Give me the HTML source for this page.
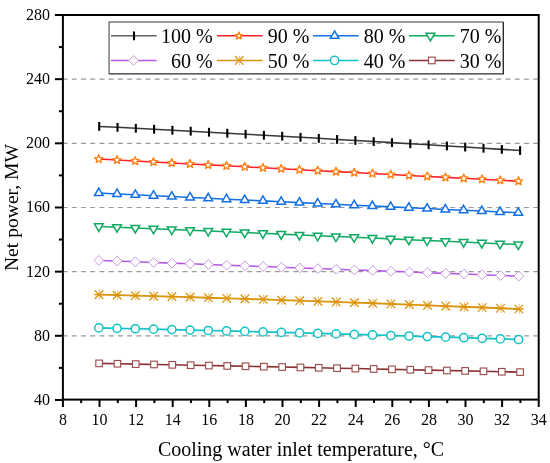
<!DOCTYPE html>
<html><head><meta charset="utf-8"><style>html,body{margin:0;padding:0;background:#fff;}svg{display:block;}</style></head>
<body>
<svg width="550" height="463" viewBox="0 0 550 463" font-family="'Liberation Serif', 'Times New Roman', serif">
<rect width="550" height="463" fill="#fff"/>
<line x1="62.57" y1="335.80" x2="537.70" y2="335.80" stroke="#999" stroke-width="1.2" stroke-dasharray="4.9 4.33"/>
<line x1="62.57" y1="271.64" x2="537.70" y2="271.64" stroke="#999" stroke-width="1.2" stroke-dasharray="4.9 4.33"/>
<line x1="62.57" y1="207.48" x2="537.70" y2="207.48" stroke="#999" stroke-width="1.2" stroke-dasharray="4.9 4.33"/>
<line x1="62.57" y1="143.32" x2="537.70" y2="143.32" stroke="#999" stroke-width="1.2" stroke-dasharray="4.9 4.33"/>
<line x1="62.57" y1="79.16" x2="537.70" y2="79.16" stroke="#999" stroke-width="1.2" stroke-dasharray="4.9 4.33"/>
<polyline points="99.20,126.40 117.50,127.34 135.80,128.29 154.10,129.25 172.40,130.22 190.70,131.21 209.00,132.20 227.30,133.20 245.60,134.21 263.90,135.23 282.20,136.26 300.50,137.30 318.80,138.35 337.10,139.41 355.40,140.48 373.70,141.55 392.00,142.64 410.30,143.74 428.60,144.85 446.90,145.97 465.20,147.10 483.50,148.23 501.80,149.38 520.10,150.54" fill="none" stroke="#383838" stroke-width="1.55" stroke-linejoin="round"/>
<line x1="99.20" y1="122.00" x2="99.20" y2="130.80" stroke="#000000" stroke-width="2.1"/>
<line x1="117.50" y1="122.94" x2="117.50" y2="131.74" stroke="#000000" stroke-width="2.1"/>
<line x1="135.80" y1="123.89" x2="135.80" y2="132.69" stroke="#000000" stroke-width="2.1"/>
<line x1="154.10" y1="124.85" x2="154.10" y2="133.65" stroke="#000000" stroke-width="2.1"/>
<line x1="172.40" y1="125.82" x2="172.40" y2="134.62" stroke="#000000" stroke-width="2.1"/>
<line x1="190.70" y1="126.81" x2="190.70" y2="135.61" stroke="#000000" stroke-width="2.1"/>
<line x1="209.00" y1="127.80" x2="209.00" y2="136.60" stroke="#000000" stroke-width="2.1"/>
<line x1="227.30" y1="128.80" x2="227.30" y2="137.60" stroke="#000000" stroke-width="2.1"/>
<line x1="245.60" y1="129.81" x2="245.60" y2="138.61" stroke="#000000" stroke-width="2.1"/>
<line x1="263.90" y1="130.83" x2="263.90" y2="139.63" stroke="#000000" stroke-width="2.1"/>
<line x1="282.20" y1="131.86" x2="282.20" y2="140.66" stroke="#000000" stroke-width="2.1"/>
<line x1="300.50" y1="132.90" x2="300.50" y2="141.70" stroke="#000000" stroke-width="2.1"/>
<line x1="318.80" y1="133.95" x2="318.80" y2="142.75" stroke="#000000" stroke-width="2.1"/>
<line x1="337.10" y1="135.01" x2="337.10" y2="143.81" stroke="#000000" stroke-width="2.1"/>
<line x1="355.40" y1="136.08" x2="355.40" y2="144.88" stroke="#000000" stroke-width="2.1"/>
<line x1="373.70" y1="137.15" x2="373.70" y2="145.95" stroke="#000000" stroke-width="2.1"/>
<line x1="392.00" y1="138.24" x2="392.00" y2="147.04" stroke="#000000" stroke-width="2.1"/>
<line x1="410.30" y1="139.34" x2="410.30" y2="148.14" stroke="#000000" stroke-width="2.1"/>
<line x1="428.60" y1="140.45" x2="428.60" y2="149.25" stroke="#000000" stroke-width="2.1"/>
<line x1="446.90" y1="141.57" x2="446.90" y2="150.37" stroke="#000000" stroke-width="2.1"/>
<line x1="465.20" y1="142.70" x2="465.20" y2="151.50" stroke="#000000" stroke-width="2.1"/>
<line x1="483.50" y1="143.83" x2="483.50" y2="152.63" stroke="#000000" stroke-width="2.1"/>
<line x1="501.80" y1="144.98" x2="501.80" y2="153.78" stroke="#000000" stroke-width="2.1"/>
<line x1="520.10" y1="146.14" x2="520.10" y2="154.94" stroke="#000000" stroke-width="2.1"/>
<polyline points="98.70,159.04 116.95,160.01 135.20,160.99 153.46,161.96 171.71,162.93 189.96,163.91 208.21,164.88 226.47,165.84 244.72,166.81 262.97,167.78 281.22,168.74 299.47,169.71 317.73,170.67 335.98,171.63 354.23,172.59 372.48,173.55 390.73,174.51 408.99,175.46 427.24,176.42 445.49,177.37 463.74,178.32 482.00,179.28 500.25,180.23 518.50,181.17" fill="none" stroke="#ff2228" stroke-width="1.55" stroke-linejoin="round"/>
<polygon points="98.70,154.74 99.84,157.47 102.79,157.71 100.54,159.64 101.23,162.52 98.70,160.97 96.17,162.52 96.86,159.64 94.61,157.71 97.56,157.47" fill="#fff" stroke="#ff7f10" stroke-width="1.35" stroke-linejoin="round"/>
<polygon points="116.95,155.71 118.09,158.45 121.04,158.69 118.79,160.61 119.48,163.49 116.95,161.95 114.42,163.49 115.11,160.61 112.86,158.69 115.81,158.45" fill="#fff" stroke="#ff7f10" stroke-width="1.35" stroke-linejoin="round"/>
<polygon points="135.20,156.69 136.34,159.42 139.29,159.66 137.04,161.59 137.73,164.47 135.20,162.92 132.68,164.47 133.36,161.59 131.11,159.66 134.07,159.42" fill="#fff" stroke="#ff7f10" stroke-width="1.35" stroke-linejoin="round"/>
<polygon points="153.46,157.66 154.59,160.40 157.55,160.63 155.30,162.56 155.98,165.44 153.46,163.90 150.93,165.44 151.62,162.56 149.37,160.63 152.32,160.40" fill="#fff" stroke="#ff7f10" stroke-width="1.35" stroke-linejoin="round"/>
<polygon points="171.71,158.63 172.85,161.37 175.80,161.61 173.55,163.53 174.24,166.41 171.71,164.87 169.18,166.41 169.87,163.53 167.62,161.61 170.57,161.37" fill="#fff" stroke="#ff7f10" stroke-width="1.35" stroke-linejoin="round"/>
<polygon points="189.96,159.61 191.10,162.34 194.05,162.58 191.80,164.50 192.49,167.38 189.96,165.84 187.43,167.38 188.12,164.50 185.87,162.58 188.82,162.34" fill="#fff" stroke="#ff7f10" stroke-width="1.35" stroke-linejoin="round"/>
<polygon points="208.21,160.58 209.35,163.31 212.30,163.55 210.05,165.47 210.74,168.35 208.21,166.81 205.69,168.35 206.37,165.47 204.12,163.55 207.08,163.31" fill="#fff" stroke="#ff7f10" stroke-width="1.35" stroke-linejoin="round"/>
<polygon points="226.47,161.54 227.60,164.28 230.55,164.52 228.31,166.44 228.99,169.32 226.47,167.78 223.94,169.32 224.62,166.44 222.38,164.52 225.33,164.28" fill="#fff" stroke="#ff7f10" stroke-width="1.35" stroke-linejoin="round"/>
<polygon points="244.72,162.51 245.85,165.25 248.81,165.48 246.56,167.41 247.24,170.29 244.72,168.75 242.19,170.29 242.88,167.41 240.63,165.48 243.58,165.25" fill="#fff" stroke="#ff7f10" stroke-width="1.35" stroke-linejoin="round"/>
<polygon points="262.97,163.48 264.11,166.21 267.06,166.45 264.81,168.38 265.50,171.26 262.97,169.71 260.44,171.26 261.13,168.38 258.88,166.45 261.83,166.21" fill="#fff" stroke="#ff7f10" stroke-width="1.35" stroke-linejoin="round"/>
<polygon points="281.22,164.44 282.36,167.18 285.31,167.41 283.06,169.34 283.75,172.22 281.22,170.68 278.69,172.22 279.38,169.34 277.13,167.41 280.08,167.18" fill="#fff" stroke="#ff7f10" stroke-width="1.35" stroke-linejoin="round"/>
<polygon points="299.47,165.41 300.61,168.14 303.56,168.38 301.31,170.30 302.00,173.18 299.47,171.64 296.95,173.18 297.63,170.30 295.38,168.38 298.34,168.14" fill="#fff" stroke="#ff7f10" stroke-width="1.35" stroke-linejoin="round"/>
<polygon points="317.73,166.37 318.86,169.10 321.82,169.34 319.57,171.27 320.25,174.15 317.73,172.60 315.20,174.15 315.89,171.27 313.64,169.34 316.59,169.10" fill="#fff" stroke="#ff7f10" stroke-width="1.35" stroke-linejoin="round"/>
<polygon points="335.98,167.33 337.12,170.06 340.07,170.30 337.82,172.23 338.51,175.11 335.98,173.56 333.45,175.11 334.14,172.23 331.89,170.30 334.84,170.06" fill="#fff" stroke="#ff7f10" stroke-width="1.35" stroke-linejoin="round"/>
<polygon points="354.23,168.29 355.37,171.02 358.32,171.26 356.07,173.19 356.76,176.07 354.23,174.52 351.70,176.07 352.39,173.19 350.14,171.26 353.09,171.02" fill="#fff" stroke="#ff7f10" stroke-width="1.35" stroke-linejoin="round"/>
<polygon points="372.48,169.25 373.62,171.98 376.57,172.22 374.32,174.15 375.01,177.03 372.48,175.48 369.96,177.03 370.64,174.15 368.39,172.22 371.35,171.98" fill="#fff" stroke="#ff7f10" stroke-width="1.35" stroke-linejoin="round"/>
<polygon points="390.73,170.21 391.87,172.94 394.82,173.18 392.58,175.10 393.26,177.98 390.73,176.44 388.21,177.98 388.89,175.10 386.65,173.18 389.60,172.94" fill="#fff" stroke="#ff7f10" stroke-width="1.35" stroke-linejoin="round"/>
<polygon points="408.99,171.16 410.12,173.90 413.08,174.13 410.83,176.06 411.51,178.94 408.99,177.40 406.46,178.94 407.15,176.06 404.90,174.13 407.85,173.90" fill="#fff" stroke="#ff7f10" stroke-width="1.35" stroke-linejoin="round"/>
<polygon points="427.24,172.12 428.38,174.85 431.33,175.09 429.08,177.02 429.77,179.90 427.24,178.35 424.71,179.90 425.40,177.02 423.15,175.09 426.10,174.85" fill="#fff" stroke="#ff7f10" stroke-width="1.35" stroke-linejoin="round"/>
<polygon points="445.49,173.07 446.63,175.81 449.58,176.04 447.33,177.97 448.02,180.85 445.49,179.31 442.96,180.85 443.65,177.97 441.40,176.04 444.35,175.81" fill="#fff" stroke="#ff7f10" stroke-width="1.35" stroke-linejoin="round"/>
<polygon points="463.74,174.02 464.88,176.76 467.83,176.99 465.58,178.92 466.27,181.80 463.74,180.26 461.22,181.80 461.90,178.92 459.65,176.99 462.61,176.76" fill="#fff" stroke="#ff7f10" stroke-width="1.35" stroke-linejoin="round"/>
<polygon points="482.00,174.98 483.13,177.71 486.09,177.95 483.84,179.87 484.52,182.75 482.00,181.21 479.47,182.75 480.16,179.87 477.91,177.95 480.86,177.71" fill="#fff" stroke="#ff7f10" stroke-width="1.35" stroke-linejoin="round"/>
<polygon points="500.25,175.93 501.39,178.66 504.34,178.90 502.09,180.82 502.78,183.70 500.25,182.16 497.72,183.70 498.41,180.82 496.16,178.90 499.11,178.66" fill="#fff" stroke="#ff7f10" stroke-width="1.35" stroke-linejoin="round"/>
<polygon points="518.50,176.87 519.64,179.61 522.59,179.85 520.34,181.77 521.03,184.65 518.50,183.11 515.97,184.65 516.66,181.77 514.41,179.85 517.36,179.61" fill="#fff" stroke="#ff7f10" stroke-width="1.35" stroke-linejoin="round"/>
<polyline points="98.80,193.04 117.04,193.92 135.28,194.80 153.52,195.68 171.76,196.55 190.00,197.42 208.23,198.29 226.47,199.16 244.71,200.03 262.95,200.89 281.19,201.75 299.43,202.61 317.67,203.47 335.91,204.33 354.15,205.18 372.39,206.03 390.63,206.88 408.87,207.73 427.10,208.57 445.34,209.42 463.58,210.26 481.82,211.10 500.06,211.94 518.30,212.77" fill="none" stroke="#1470e4" stroke-width="1.55" stroke-linejoin="round"/>
<polygon points="98.80,188.11 103.10,195.51 94.50,195.51" fill="#fff" stroke="#1470e4" stroke-width="1.5"/>
<polygon points="117.04,188.99 121.34,196.39 112.74,196.39" fill="#fff" stroke="#1470e4" stroke-width="1.5"/>
<polygon points="135.28,189.87 139.58,197.27 130.98,197.27" fill="#fff" stroke="#1470e4" stroke-width="1.5"/>
<polygon points="153.52,190.74 157.82,198.14 149.22,198.14" fill="#fff" stroke="#1470e4" stroke-width="1.5"/>
<polygon points="171.76,191.62 176.06,199.02 167.46,199.02" fill="#fff" stroke="#1470e4" stroke-width="1.5"/>
<polygon points="190.00,192.49 194.30,199.89 185.70,199.89" fill="#fff" stroke="#1470e4" stroke-width="1.5"/>
<polygon points="208.23,193.36 212.53,200.76 203.93,200.76" fill="#fff" stroke="#1470e4" stroke-width="1.5"/>
<polygon points="226.47,194.23 230.77,201.63 222.17,201.63" fill="#fff" stroke="#1470e4" stroke-width="1.5"/>
<polygon points="244.71,195.09 249.01,202.49 240.41,202.49" fill="#fff" stroke="#1470e4" stroke-width="1.5"/>
<polygon points="262.95,195.96 267.25,203.36 258.65,203.36" fill="#fff" stroke="#1470e4" stroke-width="1.5"/>
<polygon points="281.19,196.82 285.49,204.22 276.89,204.22" fill="#fff" stroke="#1470e4" stroke-width="1.5"/>
<polygon points="299.43,197.68 303.73,205.08 295.13,205.08" fill="#fff" stroke="#1470e4" stroke-width="1.5"/>
<polygon points="317.67,198.54 321.97,205.94 313.37,205.94" fill="#fff" stroke="#1470e4" stroke-width="1.5"/>
<polygon points="335.91,199.39 340.21,206.79 331.61,206.79" fill="#fff" stroke="#1470e4" stroke-width="1.5"/>
<polygon points="354.15,200.25 358.45,207.65 349.85,207.65" fill="#fff" stroke="#1470e4" stroke-width="1.5"/>
<polygon points="372.39,201.10 376.69,208.50 368.09,208.50" fill="#fff" stroke="#1470e4" stroke-width="1.5"/>
<polygon points="390.63,201.95 394.93,209.35 386.33,209.35" fill="#fff" stroke="#1470e4" stroke-width="1.5"/>
<polygon points="408.87,202.80 413.17,210.20 404.57,210.20" fill="#fff" stroke="#1470e4" stroke-width="1.5"/>
<polygon points="427.10,203.64 431.40,211.04 422.80,211.04" fill="#fff" stroke="#1470e4" stroke-width="1.5"/>
<polygon points="445.34,204.48 449.64,211.88 441.04,211.88" fill="#fff" stroke="#1470e4" stroke-width="1.5"/>
<polygon points="463.58,205.33 467.88,212.73 459.28,212.73" fill="#fff" stroke="#1470e4" stroke-width="1.5"/>
<polygon points="481.82,206.17 486.12,213.57 477.52,213.57" fill="#fff" stroke="#1470e4" stroke-width="1.5"/>
<polygon points="500.06,207.00 504.36,214.40 495.76,214.40" fill="#fff" stroke="#1470e4" stroke-width="1.5"/>
<polygon points="518.30,207.84 522.60,215.24 514.00,215.24" fill="#fff" stroke="#1470e4" stroke-width="1.5"/>
<polyline points="98.80,226.41 117.04,227.17 135.28,227.93 153.52,228.70 171.76,229.47 190.00,230.24 208.23,231.02 226.47,231.79 244.71,232.57 262.95,233.35 281.19,234.14 299.43,234.92 317.67,235.71 335.91,236.50 354.15,237.29 372.39,238.09 390.63,238.89 408.87,239.69 427.10,240.49 445.34,241.29 463.58,242.10 481.82,242.91 500.06,243.72 518.30,244.53" fill="none" stroke="#10aa62" stroke-width="1.55" stroke-linejoin="round"/>
<polygon points="94.40,223.87 103.20,223.87 98.80,231.47" fill="#fff" stroke="#10aa62" stroke-width="1.5"/>
<polygon points="112.64,224.64 121.44,224.64 117.04,232.24" fill="#fff" stroke="#10aa62" stroke-width="1.5"/>
<polygon points="130.88,225.40 139.68,225.40 135.28,233.00" fill="#fff" stroke="#10aa62" stroke-width="1.5"/>
<polygon points="149.12,226.17 157.92,226.17 153.52,233.77" fill="#fff" stroke="#10aa62" stroke-width="1.5"/>
<polygon points="167.36,226.94 176.16,226.94 171.76,234.54" fill="#fff" stroke="#10aa62" stroke-width="1.5"/>
<polygon points="185.60,227.71 194.40,227.71 190.00,235.31" fill="#fff" stroke="#10aa62" stroke-width="1.5"/>
<polygon points="203.83,228.48 212.63,228.48 208.23,236.08" fill="#fff" stroke="#10aa62" stroke-width="1.5"/>
<polygon points="222.07,229.26 230.87,229.26 226.47,236.86" fill="#fff" stroke="#10aa62" stroke-width="1.5"/>
<polygon points="240.31,230.04 249.11,230.04 244.71,237.64" fill="#fff" stroke="#10aa62" stroke-width="1.5"/>
<polygon points="258.55,230.82 267.35,230.82 262.95,238.42" fill="#fff" stroke="#10aa62" stroke-width="1.5"/>
<polygon points="276.79,231.60 285.59,231.60 281.19,239.20" fill="#fff" stroke="#10aa62" stroke-width="1.5"/>
<polygon points="295.03,232.39 303.83,232.39 299.43,239.99" fill="#fff" stroke="#10aa62" stroke-width="1.5"/>
<polygon points="313.27,233.18 322.07,233.18 317.67,240.78" fill="#fff" stroke="#10aa62" stroke-width="1.5"/>
<polygon points="331.51,233.97 340.31,233.97 335.91,241.57" fill="#fff" stroke="#10aa62" stroke-width="1.5"/>
<polygon points="349.75,234.76 358.55,234.76 354.15,242.36" fill="#fff" stroke="#10aa62" stroke-width="1.5"/>
<polygon points="367.99,235.56 376.79,235.56 372.39,243.16" fill="#fff" stroke="#10aa62" stroke-width="1.5"/>
<polygon points="386.23,236.35 395.03,236.35 390.63,243.95" fill="#fff" stroke="#10aa62" stroke-width="1.5"/>
<polygon points="404.47,237.15 413.27,237.15 408.87,244.75" fill="#fff" stroke="#10aa62" stroke-width="1.5"/>
<polygon points="422.70,237.95 431.50,237.95 427.10,245.55" fill="#fff" stroke="#10aa62" stroke-width="1.5"/>
<polygon points="440.94,238.76 449.74,238.76 445.34,246.36" fill="#fff" stroke="#10aa62" stroke-width="1.5"/>
<polygon points="459.18,239.57 467.98,239.57 463.58,247.17" fill="#fff" stroke="#10aa62" stroke-width="1.5"/>
<polygon points="477.42,240.37 486.22,240.37 481.82,247.97" fill="#fff" stroke="#10aa62" stroke-width="1.5"/>
<polygon points="495.66,241.19 504.46,241.19 500.06,248.79" fill="#fff" stroke="#10aa62" stroke-width="1.5"/>
<polygon points="513.90,242.00 522.70,242.00 518.30,249.60" fill="#fff" stroke="#10aa62" stroke-width="1.5"/>
<polyline points="98.90,260.41 117.16,261.09 135.41,261.77 153.67,262.45 171.93,263.13 190.18,263.81 208.44,264.50 226.70,265.18 244.95,265.86 263.21,266.54 281.47,267.23 299.72,267.91 317.98,268.59 336.23,269.28 354.49,269.96 372.75,270.64 391.00,271.33 409.26,272.01 427.52,272.70 445.77,273.39 464.03,274.07 482.29,274.76 500.54,275.44 518.80,276.13" fill="none" stroke="#b658e4" stroke-width="1.55" stroke-linejoin="round"/>
<polygon points="98.90,255.51 103.80,260.41 98.90,265.31 94.00,260.41" fill="#fff" stroke="#c99ae0" stroke-width="1.0"/>
<polygon points="117.16,256.19 122.06,261.09 117.16,265.99 112.26,261.09" fill="#fff" stroke="#c99ae0" stroke-width="1.0"/>
<polygon points="135.41,256.87 140.31,261.77 135.41,266.67 130.51,261.77" fill="#fff" stroke="#c99ae0" stroke-width="1.0"/>
<polygon points="153.67,257.55 158.57,262.45 153.67,267.35 148.77,262.45" fill="#fff" stroke="#c99ae0" stroke-width="1.0"/>
<polygon points="171.93,258.23 176.83,263.13 171.93,268.03 167.03,263.13" fill="#fff" stroke="#c99ae0" stroke-width="1.0"/>
<polygon points="190.18,258.91 195.08,263.81 190.18,268.71 185.28,263.81" fill="#fff" stroke="#c99ae0" stroke-width="1.0"/>
<polygon points="208.44,259.60 213.34,264.50 208.44,269.40 203.54,264.50" fill="#fff" stroke="#c99ae0" stroke-width="1.0"/>
<polygon points="226.70,260.28 231.60,265.18 226.70,270.08 221.80,265.18" fill="#fff" stroke="#c99ae0" stroke-width="1.0"/>
<polygon points="244.95,260.96 249.85,265.86 244.95,270.76 240.05,265.86" fill="#fff" stroke="#c99ae0" stroke-width="1.0"/>
<polygon points="263.21,261.64 268.11,266.54 263.21,271.44 258.31,266.54" fill="#fff" stroke="#c99ae0" stroke-width="1.0"/>
<polygon points="281.47,262.33 286.37,267.23 281.47,272.13 276.57,267.23" fill="#fff" stroke="#c99ae0" stroke-width="1.0"/>
<polygon points="299.72,263.01 304.62,267.91 299.72,272.81 294.82,267.91" fill="#fff" stroke="#c99ae0" stroke-width="1.0"/>
<polygon points="317.98,263.69 322.88,268.59 317.98,273.49 313.08,268.59" fill="#fff" stroke="#c99ae0" stroke-width="1.0"/>
<polygon points="336.23,264.38 341.13,269.28 336.23,274.18 331.33,269.28" fill="#fff" stroke="#c99ae0" stroke-width="1.0"/>
<polygon points="354.49,265.06 359.39,269.96 354.49,274.86 349.59,269.96" fill="#fff" stroke="#c99ae0" stroke-width="1.0"/>
<polygon points="372.75,265.74 377.65,270.64 372.75,275.54 367.85,270.64" fill="#fff" stroke="#c99ae0" stroke-width="1.0"/>
<polygon points="391.00,266.43 395.90,271.33 391.00,276.23 386.10,271.33" fill="#fff" stroke="#c99ae0" stroke-width="1.0"/>
<polygon points="409.26,267.11 414.16,272.01 409.26,276.91 404.36,272.01" fill="#fff" stroke="#c99ae0" stroke-width="1.0"/>
<polygon points="427.52,267.80 432.42,272.70 427.52,277.60 422.62,272.70" fill="#fff" stroke="#c99ae0" stroke-width="1.0"/>
<polygon points="445.77,268.49 450.67,273.39 445.77,278.29 440.87,273.39" fill="#fff" stroke="#c99ae0" stroke-width="1.0"/>
<polygon points="464.03,269.17 468.93,274.07 464.03,278.97 459.13,274.07" fill="#fff" stroke="#c99ae0" stroke-width="1.0"/>
<polygon points="482.29,269.86 487.19,274.76 482.29,279.66 477.39,274.76" fill="#fff" stroke="#c99ae0" stroke-width="1.0"/>
<polygon points="500.54,270.54 505.44,275.44 500.54,280.34 495.64,275.44" fill="#fff" stroke="#c99ae0" stroke-width="1.0"/>
<polygon points="518.80,271.23 523.70,276.13 518.80,281.03 513.90,276.13" fill="#fff" stroke="#c99ae0" stroke-width="1.0"/>
<polyline points="98.90,294.58 117.16,295.07 135.41,295.58 153.67,296.10 171.93,296.63 190.18,297.17 208.44,297.73 226.70,298.30 244.95,298.88 263.21,299.47 281.47,300.07 299.72,300.69 317.98,301.31 336.23,301.95 354.49,302.61 372.75,303.27 391.00,303.95 409.26,304.63 427.52,305.33 445.77,306.04 464.03,306.77 482.29,307.50 500.54,308.25 518.80,309.01" fill="none" stroke="#dc940c" stroke-width="1.8" stroke-linejoin="round"/>
<g stroke="#dc940c" stroke-width="1.3" stroke-linecap="round"><line x1="99.30" y1="290.08" x2="99.30" y2="299.08" stroke-width="1.0" stroke-opacity="0.6"/><line x1="95.00" y1="290.68" x2="102.80" y2="298.48"/><line x1="95.00" y1="298.48" x2="102.80" y2="290.68"/><line x1="94.40" y1="294.58" x2="103.40" y2="294.58"/></g>
<g stroke="#dc940c" stroke-width="1.3" stroke-linecap="round"><line x1="117.56" y1="290.57" x2="117.56" y2="299.57" stroke-width="1.0" stroke-opacity="0.6"/><line x1="113.26" y1="291.17" x2="121.06" y2="298.97"/><line x1="113.26" y1="298.97" x2="121.06" y2="291.17"/><line x1="112.66" y1="295.07" x2="121.66" y2="295.07"/></g>
<g stroke="#dc940c" stroke-width="1.3" stroke-linecap="round"><line x1="135.81" y1="291.08" x2="135.81" y2="300.08" stroke-width="1.0" stroke-opacity="0.6"/><line x1="131.51" y1="291.68" x2="139.31" y2="299.48"/><line x1="131.51" y1="299.48" x2="139.31" y2="291.68"/><line x1="130.91" y1="295.58" x2="139.91" y2="295.58"/></g>
<g stroke="#dc940c" stroke-width="1.3" stroke-linecap="round"><line x1="154.07" y1="291.60" x2="154.07" y2="300.60" stroke-width="1.0" stroke-opacity="0.6"/><line x1="149.77" y1="292.20" x2="157.57" y2="300.00"/><line x1="149.77" y1="300.00" x2="157.57" y2="292.20"/><line x1="149.17" y1="296.10" x2="158.17" y2="296.10"/></g>
<g stroke="#dc940c" stroke-width="1.3" stroke-linecap="round"><line x1="172.33" y1="292.13" x2="172.33" y2="301.13" stroke-width="1.0" stroke-opacity="0.6"/><line x1="168.03" y1="292.73" x2="175.83" y2="300.53"/><line x1="168.03" y1="300.53" x2="175.83" y2="292.73"/><line x1="167.43" y1="296.63" x2="176.43" y2="296.63"/></g>
<g stroke="#dc940c" stroke-width="1.3" stroke-linecap="round"><line x1="190.58" y1="292.67" x2="190.58" y2="301.67" stroke-width="1.0" stroke-opacity="0.6"/><line x1="186.28" y1="293.27" x2="194.08" y2="301.07"/><line x1="186.28" y1="301.07" x2="194.08" y2="293.27"/><line x1="185.68" y1="297.17" x2="194.68" y2="297.17"/></g>
<g stroke="#dc940c" stroke-width="1.3" stroke-linecap="round"><line x1="208.84" y1="293.23" x2="208.84" y2="302.23" stroke-width="1.0" stroke-opacity="0.6"/><line x1="204.54" y1="293.83" x2="212.34" y2="301.63"/><line x1="204.54" y1="301.63" x2="212.34" y2="293.83"/><line x1="203.94" y1="297.73" x2="212.94" y2="297.73"/></g>
<g stroke="#dc940c" stroke-width="1.3" stroke-linecap="round"><line x1="227.10" y1="293.80" x2="227.10" y2="302.80" stroke-width="1.0" stroke-opacity="0.6"/><line x1="222.80" y1="294.40" x2="230.60" y2="302.20"/><line x1="222.80" y1="302.20" x2="230.60" y2="294.40"/><line x1="222.20" y1="298.30" x2="231.20" y2="298.30"/></g>
<g stroke="#dc940c" stroke-width="1.3" stroke-linecap="round"><line x1="245.35" y1="294.38" x2="245.35" y2="303.38" stroke-width="1.0" stroke-opacity="0.6"/><line x1="241.05" y1="294.98" x2="248.85" y2="302.78"/><line x1="241.05" y1="302.78" x2="248.85" y2="294.98"/><line x1="240.45" y1="298.88" x2="249.45" y2="298.88"/></g>
<g stroke="#dc940c" stroke-width="1.3" stroke-linecap="round"><line x1="263.61" y1="294.97" x2="263.61" y2="303.97" stroke-width="1.0" stroke-opacity="0.6"/><line x1="259.31" y1="295.57" x2="267.11" y2="303.37"/><line x1="259.31" y1="303.37" x2="267.11" y2="295.57"/><line x1="258.71" y1="299.47" x2="267.71" y2="299.47"/></g>
<g stroke="#dc940c" stroke-width="1.3" stroke-linecap="round"><line x1="281.87" y1="295.57" x2="281.87" y2="304.57" stroke-width="1.0" stroke-opacity="0.6"/><line x1="277.57" y1="296.17" x2="285.37" y2="303.97"/><line x1="277.57" y1="303.97" x2="285.37" y2="296.17"/><line x1="276.97" y1="300.07" x2="285.97" y2="300.07"/></g>
<g stroke="#dc940c" stroke-width="1.3" stroke-linecap="round"><line x1="300.12" y1="296.19" x2="300.12" y2="305.19" stroke-width="1.0" stroke-opacity="0.6"/><line x1="295.82" y1="296.79" x2="303.62" y2="304.59"/><line x1="295.82" y1="304.59" x2="303.62" y2="296.79"/><line x1="295.22" y1="300.69" x2="304.22" y2="300.69"/></g>
<g stroke="#dc940c" stroke-width="1.3" stroke-linecap="round"><line x1="318.38" y1="296.81" x2="318.38" y2="305.81" stroke-width="1.0" stroke-opacity="0.6"/><line x1="314.08" y1="297.41" x2="321.88" y2="305.21"/><line x1="314.08" y1="305.21" x2="321.88" y2="297.41"/><line x1="313.48" y1="301.31" x2="322.48" y2="301.31"/></g>
<g stroke="#dc940c" stroke-width="1.3" stroke-linecap="round"><line x1="336.63" y1="297.45" x2="336.63" y2="306.45" stroke-width="1.0" stroke-opacity="0.6"/><line x1="332.33" y1="298.05" x2="340.13" y2="305.85"/><line x1="332.33" y1="305.85" x2="340.13" y2="298.05"/><line x1="331.73" y1="301.95" x2="340.73" y2="301.95"/></g>
<g stroke="#dc940c" stroke-width="1.3" stroke-linecap="round"><line x1="354.89" y1="298.11" x2="354.89" y2="307.11" stroke-width="1.0" stroke-opacity="0.6"/><line x1="350.59" y1="298.71" x2="358.39" y2="306.51"/><line x1="350.59" y1="306.51" x2="358.39" y2="298.71"/><line x1="349.99" y1="302.61" x2="358.99" y2="302.61"/></g>
<g stroke="#dc940c" stroke-width="1.3" stroke-linecap="round"><line x1="373.15" y1="298.77" x2="373.15" y2="307.77" stroke-width="1.0" stroke-opacity="0.6"/><line x1="368.85" y1="299.37" x2="376.65" y2="307.17"/><line x1="368.85" y1="307.17" x2="376.65" y2="299.37"/><line x1="368.25" y1="303.27" x2="377.25" y2="303.27"/></g>
<g stroke="#dc940c" stroke-width="1.3" stroke-linecap="round"><line x1="391.40" y1="299.45" x2="391.40" y2="308.45" stroke-width="1.0" stroke-opacity="0.6"/><line x1="387.10" y1="300.05" x2="394.90" y2="307.85"/><line x1="387.10" y1="307.85" x2="394.90" y2="300.05"/><line x1="386.50" y1="303.95" x2="395.50" y2="303.95"/></g>
<g stroke="#dc940c" stroke-width="1.3" stroke-linecap="round"><line x1="409.66" y1="300.13" x2="409.66" y2="309.13" stroke-width="1.0" stroke-opacity="0.6"/><line x1="405.36" y1="300.73" x2="413.16" y2="308.53"/><line x1="405.36" y1="308.53" x2="413.16" y2="300.73"/><line x1="404.76" y1="304.63" x2="413.76" y2="304.63"/></g>
<g stroke="#dc940c" stroke-width="1.3" stroke-linecap="round"><line x1="427.92" y1="300.83" x2="427.92" y2="309.83" stroke-width="1.0" stroke-opacity="0.6"/><line x1="423.62" y1="301.43" x2="431.42" y2="309.23"/><line x1="423.62" y1="309.23" x2="431.42" y2="301.43"/><line x1="423.02" y1="305.33" x2="432.02" y2="305.33"/></g>
<g stroke="#dc940c" stroke-width="1.3" stroke-linecap="round"><line x1="446.17" y1="301.54" x2="446.17" y2="310.54" stroke-width="1.0" stroke-opacity="0.6"/><line x1="441.87" y1="302.14" x2="449.67" y2="309.94"/><line x1="441.87" y1="309.94" x2="449.67" y2="302.14"/><line x1="441.27" y1="306.04" x2="450.27" y2="306.04"/></g>
<g stroke="#dc940c" stroke-width="1.3" stroke-linecap="round"><line x1="464.43" y1="302.27" x2="464.43" y2="311.27" stroke-width="1.0" stroke-opacity="0.6"/><line x1="460.13" y1="302.87" x2="467.93" y2="310.67"/><line x1="460.13" y1="310.67" x2="467.93" y2="302.87"/><line x1="459.53" y1="306.77" x2="468.53" y2="306.77"/></g>
<g stroke="#dc940c" stroke-width="1.3" stroke-linecap="round"><line x1="482.69" y1="303.00" x2="482.69" y2="312.00" stroke-width="1.0" stroke-opacity="0.6"/><line x1="478.39" y1="303.60" x2="486.19" y2="311.40"/><line x1="478.39" y1="311.40" x2="486.19" y2="303.60"/><line x1="477.79" y1="307.50" x2="486.79" y2="307.50"/></g>
<g stroke="#dc940c" stroke-width="1.3" stroke-linecap="round"><line x1="500.94" y1="303.75" x2="500.94" y2="312.75" stroke-width="1.0" stroke-opacity="0.6"/><line x1="496.64" y1="304.35" x2="504.44" y2="312.15"/><line x1="496.64" y1="312.15" x2="504.44" y2="304.35"/><line x1="496.04" y1="308.25" x2="505.04" y2="308.25"/></g>
<g stroke="#dc940c" stroke-width="1.3" stroke-linecap="round"><line x1="519.20" y1="304.51" x2="519.20" y2="313.51" stroke-width="1.0" stroke-opacity="0.6"/><line x1="514.90" y1="305.11" x2="522.70" y2="312.91"/><line x1="514.90" y1="312.91" x2="522.70" y2="305.11"/><line x1="514.30" y1="309.01" x2="523.30" y2="309.01"/></g>
<polyline points="98.80,327.94 117.05,328.35 135.30,328.76 153.56,329.19 171.81,329.62 190.06,330.06 208.31,330.51 226.57,330.97 244.82,331.44 263.07,331.91 281.32,332.40 299.57,332.89 317.83,333.39 336.08,333.90 354.33,334.42 372.58,334.95 390.83,335.49 409.09,336.03 427.34,336.59 445.59,337.15 463.84,337.72 482.10,338.30 500.35,338.89 518.60,339.49" fill="none" stroke="#12c2c6" stroke-width="1.7" stroke-linejoin="round"/>
<circle cx="98.80" cy="327.94" r="4.10" fill="#fff" stroke="#12c2c6" stroke-width="1.5"/>
<circle cx="117.05" cy="328.35" r="4.10" fill="#fff" stroke="#12c2c6" stroke-width="1.5"/>
<circle cx="135.30" cy="328.76" r="4.10" fill="#fff" stroke="#12c2c6" stroke-width="1.5"/>
<circle cx="153.56" cy="329.19" r="4.10" fill="#fff" stroke="#12c2c6" stroke-width="1.5"/>
<circle cx="171.81" cy="329.62" r="4.10" fill="#fff" stroke="#12c2c6" stroke-width="1.5"/>
<circle cx="190.06" cy="330.06" r="4.10" fill="#fff" stroke="#12c2c6" stroke-width="1.5"/>
<circle cx="208.31" cy="330.51" r="4.10" fill="#fff" stroke="#12c2c6" stroke-width="1.5"/>
<circle cx="226.57" cy="330.97" r="4.10" fill="#fff" stroke="#12c2c6" stroke-width="1.5"/>
<circle cx="244.82" cy="331.44" r="4.10" fill="#fff" stroke="#12c2c6" stroke-width="1.5"/>
<circle cx="263.07" cy="331.91" r="4.10" fill="#fff" stroke="#12c2c6" stroke-width="1.5"/>
<circle cx="281.32" cy="332.40" r="4.10" fill="#fff" stroke="#12c2c6" stroke-width="1.5"/>
<circle cx="299.57" cy="332.89" r="4.10" fill="#fff" stroke="#12c2c6" stroke-width="1.5"/>
<circle cx="317.83" cy="333.39" r="4.10" fill="#fff" stroke="#12c2c6" stroke-width="1.5"/>
<circle cx="336.08" cy="333.90" r="4.10" fill="#fff" stroke="#12c2c6" stroke-width="1.5"/>
<circle cx="354.33" cy="334.42" r="4.10" fill="#fff" stroke="#12c2c6" stroke-width="1.5"/>
<circle cx="372.58" cy="334.95" r="4.10" fill="#fff" stroke="#12c2c6" stroke-width="1.5"/>
<circle cx="390.83" cy="335.49" r="4.10" fill="#fff" stroke="#12c2c6" stroke-width="1.5"/>
<circle cx="409.09" cy="336.03" r="4.10" fill="#fff" stroke="#12c2c6" stroke-width="1.5"/>
<circle cx="427.34" cy="336.59" r="4.10" fill="#fff" stroke="#12c2c6" stroke-width="1.5"/>
<circle cx="445.59" cy="337.15" r="4.10" fill="#fff" stroke="#12c2c6" stroke-width="1.5"/>
<circle cx="463.84" cy="337.72" r="4.10" fill="#fff" stroke="#12c2c6" stroke-width="1.5"/>
<circle cx="482.10" cy="338.30" r="4.10" fill="#fff" stroke="#12c2c6" stroke-width="1.5"/>
<circle cx="500.35" cy="338.89" r="4.10" fill="#fff" stroke="#12c2c6" stroke-width="1.5"/>
<circle cx="518.60" cy="339.49" r="4.10" fill="#fff" stroke="#12c2c6" stroke-width="1.5"/>
<polyline points="99.10,363.39 117.40,363.74 135.71,364.10 154.01,364.46 172.32,364.82 190.62,365.19 208.93,365.55 227.23,365.92 245.53,366.29 263.84,366.67 282.14,367.04 300.45,367.42 318.75,367.80 337.06,368.18 355.36,368.57 373.67,368.95 391.97,369.34 410.27,369.73 428.58,370.13 446.88,370.52 465.19,370.92 483.49,371.32 501.80,371.73 520.10,372.13" fill="none" stroke="#8a3030" stroke-width="1.6" stroke-linejoin="round"/>
<rect x="95.80" y="360.09" width="6.60" height="6.60" fill="#fff" stroke="#9c4848" stroke-width="1.1"/>
<rect x="114.10" y="360.44" width="6.60" height="6.60" fill="#fff" stroke="#9c4848" stroke-width="1.1"/>
<rect x="132.41" y="360.80" width="6.60" height="6.60" fill="#fff" stroke="#9c4848" stroke-width="1.1"/>
<rect x="150.71" y="361.16" width="6.60" height="6.60" fill="#fff" stroke="#9c4848" stroke-width="1.1"/>
<rect x="169.02" y="361.52" width="6.60" height="6.60" fill="#fff" stroke="#9c4848" stroke-width="1.1"/>
<rect x="187.32" y="361.89" width="6.60" height="6.60" fill="#fff" stroke="#9c4848" stroke-width="1.1"/>
<rect x="205.63" y="362.25" width="6.60" height="6.60" fill="#fff" stroke="#9c4848" stroke-width="1.1"/>
<rect x="223.93" y="362.62" width="6.60" height="6.60" fill="#fff" stroke="#9c4848" stroke-width="1.1"/>
<rect x="242.23" y="362.99" width="6.60" height="6.60" fill="#fff" stroke="#9c4848" stroke-width="1.1"/>
<rect x="260.54" y="363.37" width="6.60" height="6.60" fill="#fff" stroke="#9c4848" stroke-width="1.1"/>
<rect x="278.84" y="363.74" width="6.60" height="6.60" fill="#fff" stroke="#9c4848" stroke-width="1.1"/>
<rect x="297.15" y="364.12" width="6.60" height="6.60" fill="#fff" stroke="#9c4848" stroke-width="1.1"/>
<rect x="315.45" y="364.50" width="6.60" height="6.60" fill="#fff" stroke="#9c4848" stroke-width="1.1"/>
<rect x="333.76" y="364.88" width="6.60" height="6.60" fill="#fff" stroke="#9c4848" stroke-width="1.1"/>
<rect x="352.06" y="365.27" width="6.60" height="6.60" fill="#fff" stroke="#9c4848" stroke-width="1.1"/>
<rect x="370.37" y="365.65" width="6.60" height="6.60" fill="#fff" stroke="#9c4848" stroke-width="1.1"/>
<rect x="388.67" y="366.04" width="6.60" height="6.60" fill="#fff" stroke="#9c4848" stroke-width="1.1"/>
<rect x="406.97" y="366.43" width="6.60" height="6.60" fill="#fff" stroke="#9c4848" stroke-width="1.1"/>
<rect x="425.28" y="366.83" width="6.60" height="6.60" fill="#fff" stroke="#9c4848" stroke-width="1.1"/>
<rect x="443.58" y="367.22" width="6.60" height="6.60" fill="#fff" stroke="#9c4848" stroke-width="1.1"/>
<rect x="461.89" y="367.62" width="6.60" height="6.60" fill="#fff" stroke="#9c4848" stroke-width="1.1"/>
<rect x="480.19" y="368.02" width="6.60" height="6.60" fill="#fff" stroke="#9c4848" stroke-width="1.1"/>
<rect x="498.50" y="368.43" width="6.60" height="6.60" fill="#fff" stroke="#9c4848" stroke-width="1.1"/>
<rect x="516.80" y="368.83" width="6.60" height="6.60" fill="#fff" stroke="#9c4848" stroke-width="1.1"/>
<rect x="62.9" y="15.0" width="475.80" height="384.60" fill="none" stroke="#000" stroke-width="2"/>
<line x1="54.90" y1="399.96" x2="62.90" y2="399.96" stroke="#000" stroke-width="2"/>
<text x="49.9" y="404.86" font-size="16" text-anchor="end">40</text>
<line x1="58.90" y1="367.88" x2="62.90" y2="367.88" stroke="#000" stroke-width="2"/>
<line x1="54.90" y1="335.80" x2="62.90" y2="335.80" stroke="#000" stroke-width="2"/>
<text x="49.9" y="340.70" font-size="16" text-anchor="end">80</text>
<line x1="58.90" y1="303.72" x2="62.90" y2="303.72" stroke="#000" stroke-width="2"/>
<line x1="54.90" y1="271.64" x2="62.90" y2="271.64" stroke="#000" stroke-width="2"/>
<text x="49.9" y="276.54" font-size="16" text-anchor="end">120</text>
<line x1="58.90" y1="239.56" x2="62.90" y2="239.56" stroke="#000" stroke-width="2"/>
<line x1="54.90" y1="207.48" x2="62.90" y2="207.48" stroke="#000" stroke-width="2"/>
<text x="49.9" y="212.38" font-size="16" text-anchor="end">160</text>
<line x1="58.90" y1="175.40" x2="62.90" y2="175.40" stroke="#000" stroke-width="2"/>
<line x1="54.90" y1="143.32" x2="62.90" y2="143.32" stroke="#000" stroke-width="2"/>
<text x="49.9" y="148.22" font-size="16" text-anchor="end">200</text>
<line x1="58.90" y1="111.24" x2="62.90" y2="111.24" stroke="#000" stroke-width="2"/>
<line x1="54.90" y1="79.16" x2="62.90" y2="79.16" stroke="#000" stroke-width="2"/>
<text x="49.9" y="84.06" font-size="16" text-anchor="end">240</text>
<line x1="58.90" y1="47.08" x2="62.90" y2="47.08" stroke="#000" stroke-width="2"/>
<line x1="54.90" y1="15.00" x2="62.90" y2="15.00" stroke="#000" stroke-width="2"/>
<text x="49.9" y="19.90" font-size="16" text-anchor="end">280</text>
<line x1="62.90" y1="399.60" x2="62.90" y2="407.00" stroke="#000" stroke-width="2"/>
<text x="62.90" y="425" font-size="16" text-anchor="middle">8</text>
<line x1="81.20" y1="399.60" x2="81.20" y2="403.10" stroke="#000" stroke-width="2"/>
<line x1="99.50" y1="399.60" x2="99.50" y2="407.00" stroke="#000" stroke-width="2"/>
<text x="99.50" y="425" font-size="16" text-anchor="middle">10</text>
<line x1="117.80" y1="399.60" x2="117.80" y2="403.10" stroke="#000" stroke-width="2"/>
<line x1="136.10" y1="399.60" x2="136.10" y2="407.00" stroke="#000" stroke-width="2"/>
<text x="136.10" y="425" font-size="16" text-anchor="middle">12</text>
<line x1="154.40" y1="399.60" x2="154.40" y2="403.10" stroke="#000" stroke-width="2"/>
<line x1="172.70" y1="399.60" x2="172.70" y2="407.00" stroke="#000" stroke-width="2"/>
<text x="172.70" y="425" font-size="16" text-anchor="middle">14</text>
<line x1="191.00" y1="399.60" x2="191.00" y2="403.10" stroke="#000" stroke-width="2"/>
<line x1="209.30" y1="399.60" x2="209.30" y2="407.00" stroke="#000" stroke-width="2"/>
<text x="209.30" y="425" font-size="16" text-anchor="middle">16</text>
<line x1="227.60" y1="399.60" x2="227.60" y2="403.10" stroke="#000" stroke-width="2"/>
<line x1="245.90" y1="399.60" x2="245.90" y2="407.00" stroke="#000" stroke-width="2"/>
<text x="245.90" y="425" font-size="16" text-anchor="middle">18</text>
<line x1="264.20" y1="399.60" x2="264.20" y2="403.10" stroke="#000" stroke-width="2"/>
<line x1="282.50" y1="399.60" x2="282.50" y2="407.00" stroke="#000" stroke-width="2"/>
<text x="282.50" y="425" font-size="16" text-anchor="middle">20</text>
<line x1="300.80" y1="399.60" x2="300.80" y2="403.10" stroke="#000" stroke-width="2"/>
<line x1="319.10" y1="399.60" x2="319.10" y2="407.00" stroke="#000" stroke-width="2"/>
<text x="319.10" y="425" font-size="16" text-anchor="middle">22</text>
<line x1="337.40" y1="399.60" x2="337.40" y2="403.10" stroke="#000" stroke-width="2"/>
<line x1="355.70" y1="399.60" x2="355.70" y2="407.00" stroke="#000" stroke-width="2"/>
<text x="355.70" y="425" font-size="16" text-anchor="middle">24</text>
<line x1="374.00" y1="399.60" x2="374.00" y2="403.10" stroke="#000" stroke-width="2"/>
<line x1="392.30" y1="399.60" x2="392.30" y2="407.00" stroke="#000" stroke-width="2"/>
<text x="392.30" y="425" font-size="16" text-anchor="middle">26</text>
<line x1="410.60" y1="399.60" x2="410.60" y2="403.10" stroke="#000" stroke-width="2"/>
<line x1="428.90" y1="399.60" x2="428.90" y2="407.00" stroke="#000" stroke-width="2"/>
<text x="428.90" y="425" font-size="16" text-anchor="middle">28</text>
<line x1="447.20" y1="399.60" x2="447.20" y2="403.10" stroke="#000" stroke-width="2"/>
<line x1="465.50" y1="399.60" x2="465.50" y2="407.00" stroke="#000" stroke-width="2"/>
<text x="465.50" y="425" font-size="16" text-anchor="middle">30</text>
<line x1="483.80" y1="399.60" x2="483.80" y2="403.10" stroke="#000" stroke-width="2"/>
<line x1="502.10" y1="399.60" x2="502.10" y2="407.00" stroke="#000" stroke-width="2"/>
<text x="502.10" y="425" font-size="16" text-anchor="middle">32</text>
<line x1="520.40" y1="399.60" x2="520.40" y2="403.10" stroke="#000" stroke-width="2"/>
<line x1="538.70" y1="399.60" x2="538.70" y2="407.00" stroke="#000" stroke-width="2"/>
<text x="538.70" y="425" font-size="16" text-anchor="middle">34</text>
<text x="301" y="456" font-size="20" text-anchor="middle">Cooling water inlet temperature, °C</text>
<text transform="translate(17.5,207.5) rotate(-90)" font-size="19.6" text-anchor="middle">Net power, MW</text>
<rect x="109" y="22" width="394.3" height="51.9" fill="#fff" stroke="none"/>
<path d="M109.1,73.9 V22 H503.3" fill="none" stroke="#7a7a7a" stroke-width="1.5"/>
<path d="M109.1,73.9 H503.3 V22" fill="none" stroke="#2c2c2c" stroke-width="1.4"/>
<line x1="111" y1="35.85" x2="156.6" y2="35.85" stroke="#606060" stroke-width="1.5"/>
<line x1="134.00" y1="31.45" x2="134.00" y2="40.25" stroke="#000000" stroke-width="2.1"/>
<text x="212.6" y="43.15" font-size="20" text-anchor="end">100 %</text>
<line x1="111" y1="60.45" x2="156.6" y2="60.45" stroke="#b658e4" stroke-width="1.5"/>
<polygon points="133.50,55.55 138.40,60.45 133.50,65.35 128.60,60.45" fill="#fff" stroke="#c99ae0" stroke-width="1.0"/>
<text x="212.6" y="67.75" font-size="20" text-anchor="end">60 %</text>
<line x1="217" y1="35.85" x2="262.6" y2="35.85" stroke="#ff2228" stroke-width="1.5"/>
<polygon points="238.90,32.07 239.90,34.47 242.50,34.68 240.52,36.38 241.12,38.91 238.90,37.55 236.68,38.91 237.28,36.38 235.30,34.68 237.90,34.47" fill="#fff" stroke="#ff7f10" stroke-width="1.35" stroke-linejoin="round"/>
<text x="267.8" y="43.15" font-size="20">90 %</text>
<line x1="217" y1="60.45" x2="262.6" y2="60.45" stroke="#dc940c" stroke-width="1.5"/>
<g stroke="#dc940c" stroke-width="1.3" stroke-linecap="round"><line x1="239.60" y1="55.95" x2="239.60" y2="64.95" stroke-width="1.0" stroke-opacity="0.6"/><line x1="235.30" y1="56.55" x2="243.10" y2="64.35"/><line x1="235.30" y1="64.35" x2="243.10" y2="56.55"/><line x1="234.70" y1="60.45" x2="243.70" y2="60.45"/></g>
<text x="267.8" y="67.75" font-size="20">50 %</text>
<line x1="313" y1="35.85" x2="358.6" y2="35.85" stroke="#1470e4" stroke-width="1.5"/>
<polygon points="334.60,30.92 338.90,38.32 330.30,38.32" fill="#fff" stroke="#1470e4" stroke-width="1.5"/>
<text x="363.8" y="43.15" font-size="20">80 %</text>
<line x1="313" y1="60.45" x2="358.6" y2="60.45" stroke="#12c2c6" stroke-width="1.5"/>
<circle cx="334.60" cy="60.45" r="4.10" fill="#fff" stroke="#12c2c6" stroke-width="1.5"/>
<text x="363.8" y="67.75" font-size="20">40 %</text>
<line x1="409" y1="35.85" x2="454.6" y2="35.85" stroke="#10aa62" stroke-width="1.5"/>
<polygon points="426.00,33.32 434.80,33.32 430.40,40.92" fill="#fff" stroke="#10aa62" stroke-width="1.5"/>
<text x="459.8" y="43.15" font-size="20">70 %</text>
<line x1="409" y1="60.45" x2="454.6" y2="60.45" stroke="#8a3030" stroke-width="1.5"/>
<rect x="428.50" y="57.15" width="6.60" height="6.60" fill="#fff" stroke="#9c4848" stroke-width="1.1"/>
<text x="459.8" y="67.75" font-size="20">30 %</text>
</svg>
</body></html>
